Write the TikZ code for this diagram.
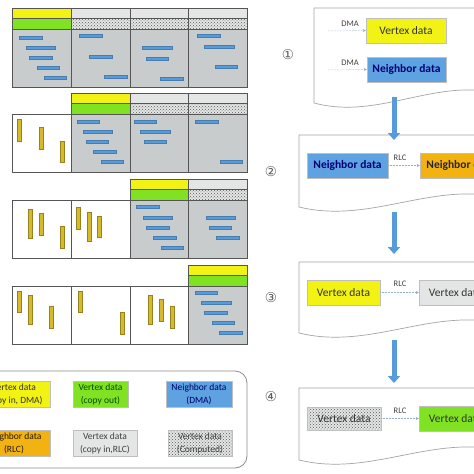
\documentclass[tikz,border=0pt]{standalone}
\usepackage{fontspec}
\setmainfont{Carlito}
\newfontfamily\numfont{DejaVu Sans}
\usetikzlibrary{patterns,arrows.meta}
\definecolor{vyellow}{RGB}{242,242,20}
\definecolor{vgreen}{RGB}{128,226,34}
\definecolor{nblue}{RGB}{94,162,226}
\definecolor{norange}{RGB}{242,178,18}
\definecolor{lgrey}{RGB}{228,230,230}
\definecolor{bodygrey}{RGB}{200,204,204}
\definecolor{barblue}{RGB}{88,155,218}
\definecolor{baryellow}{RGB}{214,186,44}
\definecolor{frame}{RGB}{85,85,85}
\definecolor{docline}{RGB}{165,165,165}
\definecolor{dotcol}{RGB}{150,175,200}
\newcommand\trow[2]{%
  \foreach \i/\xa/\xb in {1/12/71,2/71/130,3/130/188,4/188/247}{%
    \ifnum\i<#1\relax
      \draw[tframe, fill=white] (\xa,{#2+21}) rectangle (\xb,{#2+79});
    \else
      \draw[tframe, fill=bodygrey] (\xa,{#2+21}) rectangle (\xb,{#2+79});
    \fi
    \ifnum\i=#1\relax
      \draw[tframe, fill=vyellow] (\xa,#2) rectangle (\xb,{#2+10});
      \draw[tframe, fill=vgreen] (\xa,{#2+10}) rectangle (\xb,{#2+21});
    \fi
    \ifnum\i>#1\relax
      \draw[tframe, fill=lgrey] (\xa,#2) rectangle (\xb,{#2+10});
      \draw[tframe, hatch] (\xa,{#2+10}) rectangle (\xb,{#2+21});
    \fi
  }%
}
\newcommand\docshape[3]{%
  \draw[docstyle] (#1,#3) .. controls ({#1+0.35*(474-#1)},{#3+15}) and ({#1+0.66*(474-#1)},{#3-15}) .. (474,{#3-13}) -- (490,{#3-14}) -- (490,#2) -- (#1,#2) -- cycle;
}
\tikzset{
  tframe/.style={draw=frame, line width=0.6pt},
  hatch/.style={pattern=crosshatch dots, pattern color=gray!70!black, preaction={fill=lgrey}},
  docstyle/.style={draw=docline, fill=white, line width=0.7pt},
  bbar/.style={fill=barblue, draw=barblue!80!black, line width=0.3pt},
  ybar/.style={fill=baryellow, draw=baryellow!70!black, line width=0.3pt},
  databox/.style={draw=black!25, minimum height=25pt, inner sep=1pt, font=\fontsize{11.5}{13}\selectfont},
  legbox/.style={draw=black!25, minimum height=26pt, inner sep=1pt, align=center, font=\fontsize{9.5}{13}\selectfont},
  lbl/.style={font=\fontsize{8.5}{9}\selectfont, text=black!75, inner sep=0pt},
  dotarrow/.style={draw=dotcol, densely dotted, line width=0.5pt, -{Stealth[length=3pt,width=3pt]}},
  bigarrow/.style={draw=barblue, line width=5pt, -{Triangle[width=12pt,length=7pt]}},
  numlbl/.style={font=\numfont\fontsize{13.5}{14}\selectfont, text=black!65, inner sep=0pt}
}
\begin{document}
\begin{tikzpicture}[x=1pt,y=-1pt]
\useasboundingbox (0,0) rectangle (474,474);
\clip (0,0) rectangle (474,474);
\fill[white] (0,0) rectangle (474,474);
% ---- left tables ----
\trow{1}{8}
\trow{2}{93}
\trow{3}{179}
\trow{4}{265}
\foreach \xa/\xb/\y in {19/42/38,26/55/48,29/52/58,37/59/68,44/66/78,79/102/36,89/112/57,104/127/77,142/172/48,146/168/59,160/183/79,197/220/36,204/234/47,215/237/67,
  77/99/122,83/112/132,86/108/142,93/116/152,101/123/162,134/156/122,140/170/132,144/166/142,195/218/122,220/242/162,
  136/159/207,143/172/218,146/169/228,153/176/238,161/183/248,206/235/218,209/231/228,216/239/238,
  195/217/293,201/231/303,204/227/313,212/234/323,219/242/333}
  \draw[bbar] (\xa,\y-1.6) rectangle (\xb,\y+1.6);
\foreach \x/\ya/\yb in {19/119/141,41/127/149,62/141/162,
  30/209/238,41/213/235,62/226/248,78/207/229,89/212/241,99/216/237,
  19/291/312,30/295/324,51/306/328,80/291/312,122/312/334,150/295/324,161/299/321,172/306/328}
  \draw[ybar] (\x-2,\ya) rectangle (\x+2,\yb);
% ---- legend ----
\draw[draw=black!45, line width=0.8pt, rounded corners=12pt] (-12,371) rectangle (247,468);
\node[legbox, fill=vyellow, text=black!80!olive, minimum width=72pt] (lg1) at (14,394) {Vertex data\\(copy in, DMA)};
\node[legbox, fill=vgreen, text=green!30!black, minimum width=55pt] (lg2) at (100.5,394) {Vertex data\\(copy out)};
\node[legbox, fill=nblue, text=blue!40!black, minimum width=66pt] (lg3) at (199,394) {Neighbor data\\(DMA)};
\node[legbox, fill=norange, text=black!80!brown, minimum width=72pt] (lg4) at (14,443) {Neighbor data\\(RLC)};
\node[legbox, fill=lgrey, text=black!75, minimum width=64pt] (lg5) at (105,443) {Vertex data\\(copy in,RLC)};
\node[legbox, hatch, text=black!75, minimum width=64pt] (lg6) at (200,443) {Vertex data\\(Computed)};
% ---- right panel ----
\docshape{314}{8}{103}
\docshape{299}{135}{207}
\docshape{299}{262}{333}
\docshape{299}{388}{460}
\node[numlbl] (c1) at (288,55) {①};
\node[numlbl] (c2) at (271,172) {②};
\node[numlbl] (c3) at (271,298) {③};
\node[numlbl] (c4) at (271,397) {④};
% step 1
\node[databox, fill=vyellow, text=black!80, minimum width=80pt] (v1) at (406,30.5) {Vertex data};
\node[databox, fill=nblue, text=blue!45!black, font=\fontsize{11.5}{13}\selectfont\bfseries, minimum width=79pt] (n1) at (406.5,69.5) {Neighbor data};
\coordinate (d1) at (328,31);
\coordinate (d2) at (328,70);
\draw[dotarrow] (d1) -- (v1.west);
\draw[dotarrow] (d2) -- (n1.west);
\node[lbl] (dma1) at (350,24) {DMA};
\node[lbl] (dma2) at (350,63) {DMA};
% step 2
\node[databox, fill=nblue, text=blue!45!black, font=\fontsize{11.5}{13}\selectfont\bfseries, minimum width=81pt] (n2) at (347.5,165.5) {Neighbor data};
\node[databox, fill=norange, text=black!85, font=\fontsize{11.5}{13}\selectfont\bfseries, minimum width=81pt] (o2) at (460.5,165.5) {Neighbor data};
\draw[dotarrow] (n2) -- (o2);
\node[lbl] (rlc2) at (400,158) {RLC};
% step 3
\node[databox, fill=vyellow, text=black!80, minimum width=73pt] (v3) at (343.5,292.5) {Vertex data};
\node[databox, fill=lgrey, text=black!80, minimum width=73pt] (g3) at (455.5,292.5) {Vertex data};
\draw[dotarrow] (v3) -- (g3);
\node[lbl] (rlc3) at (400,284) {RLC};
% step 4
\node[databox, hatch, text=black!80, minimum width=74pt, minimum height=23pt] (h4) at (344,418.5) {Vertex data};
\node[databox, fill=vgreen, text=black!80, minimum width=73pt] (g4) at (455.5,418.5) {Vertex data};
\draw[dotarrow] (h4) -- (g4);
\node[lbl] (rlc4) at (400,411) {RLC};
% big arrows
\coordinate (a1s) at (394,97);  \coordinate (a1e) at (394,140);
\coordinate (a2s) at (394,212); \coordinate (a2e) at (394,254);
\coordinate (a3s) at (394,340); \coordinate (a3e) at (394,383);
\draw[bigarrow] (a1s) -- (a1e);
\draw[bigarrow] (a2s) -- (a2e);
\draw[bigarrow] (a3s) -- (a3e);
\end{tikzpicture}
\end{document}
